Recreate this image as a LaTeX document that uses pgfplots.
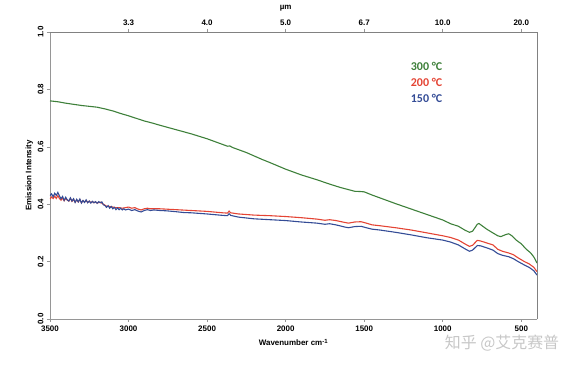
\documentclass[border=0pt]{standalone}
\usepackage{pgfplots}
\pgfplotsset{compat=1.18}
\usepackage{fontspec}
\setmainfont{Liberation Sans}
\newfontfamily\legfont{Carlito}
\newfontfamily\cjk{Noto Sans CJK SC}
\definecolor{g300}{RGB}{62,128,58}
\definecolor{r200}{RGB}{228,68,52}
\definecolor{b150}{RGB}{52,76,150}
\definecolor{axgray}{RGB}{150,150,150}
\begin{document}
\begin{tikzpicture}
\useasboundingbox (-50bp,-48bp) rectangle (530bp,319bp);
\begin{axis}[
  at={(0,0)}, anchor=south west,
  width=487bp, height=287bp, scale only axis,
  x dir=reverse, xmin=400, xmax=3500, ymin=0, ymax=1,
  axis x line*=bottom, axis y line*=left,
  axis line style={axgray, line width=0.8pt},
  tick style={axgray, line width=0.6pt},
  tick align=outside, major tick length=3bp,
  xtick={3500,3000,2500,2000,1500,1000,500},
  ytick={0,0.2,0.4,0.6,0.8,1.0},
  /pgf/number format/assume math mode=true,
  /pgf/number format/1000 sep={},
  yticklabel style={/pgf/number format/fixed, /pgf/number format/fixed zerofill, /pgf/number format/precision=1, rotate=90, anchor=south},
  ticklabel style={font=\bfseries\fontsize{8}{9}\selectfont},
  xlabel={Wavenumber cm\textsuperscript{-1}},
  ylabel={Emission Intensity},
  label style={font=\bfseries\fontsize{8}{9}\selectfont},
  xlabel style={yshift=-1bp},
  ylabel style={yshift=-2bp},
  clip=true,
]
\addplot[g300, line width=1.1pt] coordinates {
(3500,0.760) (3450,0.757) (3400,0.752) (3350,0.748) (3300,0.744) (3250,0.741) (3200,0.738) (3150,0.732) (3100,0.725) (3050,0.716) (3000,0.708) (2950,0.699) (2900,0.690) (2850,0.683) (2800,0.675) (2700,0.660) (2600,0.645) (2500,0.628) (2400,0.608) (2370,0.602) (2355,0.603) (2340,0.598) (2300,0.590) (2250,0.580) (2200,0.568) (2150,0.556) (2100,0.545) (2000,0.522) (1900,0.502) (1800,0.485) (1720,0.470) (1650,0.458) (1560,0.445) (1520,0.444) (1500,0.443) (1450,0.432) (1400,0.422) (1300,0.402) (1200,0.383) (1100,0.364) (1000,0.345) (950,0.332) (900,0.323) (860,0.310) (830,0.302) (810,0.306) (780,0.330) (770,0.333) (750,0.325) (720,0.313) (690,0.303) (650,0.290) (630,0.287) (600,0.294) (580,0.297) (560,0.290) (530,0.274) (500,0.262) (470,0.244) (440,0.230) (420,0.216) (400,0.195)
};
\addplot[r200, line width=1.1pt] coordinates {
(3500,0.418) (3490,0.425) (3480,0.420) (3470,0.428) (3460,0.420) (3450,0.430) (3440,0.420) (3430,0.414) (3420,0.422) (3410,0.412) (3400,0.420) (3390,0.414) (3380,0.411) (3370,0.420) (3360,0.410) (3350,0.417) (3340,0.407) (3330,0.415) (3320,0.408) (3310,0.416) (3300,0.405) (3290,0.412) (3280,0.407) (3270,0.413) (3260,0.406) (3250,0.411) (3240,0.405) (3230,0.409) (3220,0.405) (3210,0.408) (3200,0.404) (3180,0.407) (3160,0.400) (3140,0.393) (3120,0.392) (3100,0.390) (3080,0.388) (3060,0.388) (3040,0.386) (3020,0.388) (3000,0.390) (2980,0.386) (2960,0.388) (2940,0.383) (2920,0.380) (2900,0.384) (2880,0.386) (2860,0.384) (2800,0.384) (2700,0.381) (2600,0.378) (2500,0.375) (2400,0.370) (2370,0.369) (2360,0.376) (2350,0.370) (2300,0.366) (2200,0.362) (2100,0.360) (2000,0.357) (1900,0.353) (1800,0.348) (1750,0.344) (1720,0.346) (1680,0.343) (1620,0.336) (1600,0.334) (1560,0.338) (1520,0.339) (1480,0.333) (1450,0.328) (1400,0.325) (1300,0.318) (1200,0.310) (1100,0.300) (1000,0.290) (950,0.284) (900,0.275) (860,0.262) (830,0.253) (810,0.257) (780,0.274) (760,0.272) (720,0.265) (680,0.258) (650,0.243) (620,0.236) (580,0.230) (550,0.224) (520,0.213) (480,0.200) (450,0.192) (420,0.180) (400,0.165)
};
\addplot[b150, line width=1.1pt] coordinates {
(3500,0.430) (3490,0.436) (3480,0.426) (3470,0.438) (3460,0.431) (3450,0.441) (3440,0.429) (3430,0.419) (3420,0.427) (3410,0.413) (3400,0.424) (3390,0.415) (3380,0.411) (3370,0.422) (3360,0.411) (3350,0.419) (3340,0.406) (3330,0.417) (3320,0.408) (3310,0.418) (3300,0.404) (3290,0.413) (3280,0.406) (3270,0.415) (3260,0.405) (3250,0.411) (3240,0.404) (3230,0.410) (3220,0.405) (3210,0.409) (3200,0.403) (3190,0.409) (3180,0.405) (3170,0.408) (3160,0.398) (3150,0.395) (3140,0.389) (3130,0.395) (3120,0.386) (3110,0.392) (3100,0.384) (3090,0.389) (3080,0.381) (3070,0.387) (3060,0.381) (3050,0.386) (3040,0.380) (3030,0.384) (3020,0.380) (3000,0.383) (2980,0.378) (2960,0.381) (2940,0.376) (2920,0.373) (2900,0.378) (2880,0.381) (2860,0.378) (2840,0.380) (2800,0.378) (2760,0.377) (2700,0.374) (2650,0.371) (2600,0.370) (2500,0.366) (2400,0.361) (2370,0.360) (2360,0.367) (2350,0.361) (2300,0.355) (2250,0.352) (2200,0.349) (2100,0.346) (2000,0.343) (1900,0.338) (1800,0.334) (1750,0.330) (1720,0.332) (1680,0.328) (1620,0.320) (1600,0.318) (1560,0.322) (1520,0.323) (1480,0.317) (1450,0.313) (1400,0.310) (1300,0.302) (1200,0.293) (1100,0.283) (1000,0.275) (950,0.268) (900,0.258) (860,0.245) (830,0.236) (810,0.240) (780,0.256) (760,0.255) (720,0.248) (680,0.240) (650,0.228) (620,0.222) (580,0.217) (550,0.210) (520,0.200) (480,0.188) (450,0.180) (420,0.168) (400,0.153)
};
\node[anchor=west, text=g300, font=\legfont\bfseries\fontsize{12}{14}\selectfont] at (axis cs:1225,0.879) {300 °C};
\node[anchor=west, text=r200, font=\legfont\bfseries\fontsize{12}{14}\selectfont] at (axis cs:1225,0.823) {200 °C};
\node[anchor=west, text=b150, font=\legfont\bfseries\fontsize{12}{14}\selectfont] at (axis cs:1225,0.767) {150 °C};
\end{axis}
\begin{axis}[
  at={(0,0)}, anchor=south west,
  width=487bp, height=287bp, scale only axis,
  x dir=reverse, xmin=400, xmax=3500, ymin=0, ymax=1,
  axis x line*=top, axis y line*=right,
  axis line style={axgray!120, line width=0.8pt},
  tick style={axgray, line width=0.6pt},
  tick align=outside, major tick length=3bp,
  xtick={3000,2500,2000,1500,1000,500},
  xticklabels={3.3,4.0,5.0,6.7,10.0,20.0},
  ytick=\empty,
  ticklabel style={font=\bfseries\fontsize{8}{9}\selectfont},
  clip=false,
]
\addplot[draw=none] coordinates {(3500,0) (400,1)};
\node[font=\bfseries\fontsize{8}{9}\selectfont, anchor=south] at (axis cs:2000,1.062) {µm};
\end{axis}
\node[text=black!22, font=\cjk\fontsize{16}{18}\selectfont] at (452bp,-24bp) {知乎 @艾克赛普};
\end{tikzpicture}
\end{document}
